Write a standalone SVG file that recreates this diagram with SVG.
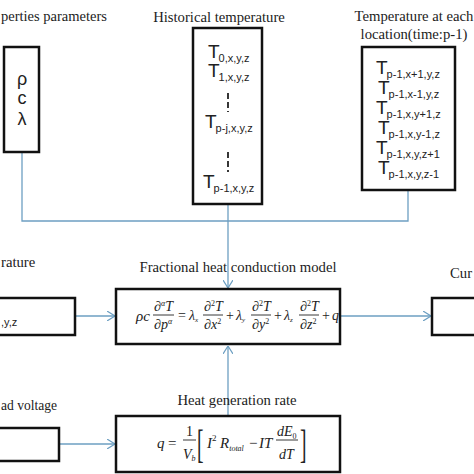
<svg xmlns="http://www.w3.org/2000/svg" width="474" height="474" viewBox="0 0 474 474">
<defs>
<style>
.box{fill:#fff;stroke:#111;stroke-width:2.5}
.title{font-family:"Liberation Serif","Times New Roman",serif;font-size:14.7px;fill:#222}
.sym{font-family:"Liberation Sans",Arial,sans-serif;fill:#222}
.eq{font-family:"Liberation Serif","Times New Roman",serif;font-style:italic;font-size:14px;fill:#222}
.up{font-style:normal}
.con{fill:none;stroke:#6d9fc2;stroke-width:1.3}
.bar{stroke:#222;stroke-width:0.9}
</style>
<marker id="ah" viewBox="0 0 8 10" refX="8" refY="5" markerWidth="8" markerHeight="10" markerUnits="userSpaceOnUse" orient="auto">
<path d="M0,0 L8,5 L0,10" fill="none" stroke="#6d9fc2" stroke-width="1.2"/>
</marker>
</defs>
<rect width="474" height="474" fill="#fff"/>

<g id="connectors">
<path class="con" d="M22,152 V221 H408 V190"/>
<line class="con" x1="228" y1="204" x2="228" y2="288" marker-end="url(#ah)"/>
<line class="con" x1="75" y1="316" x2="115" y2="316" marker-end="url(#ah)"/>
<line class="con" x1="341" y1="316" x2="431" y2="316" marker-end="url(#ah)"/>
<line class="con" x1="228" y1="416" x2="228" y2="346" marker-end="url(#ah)"/>
<line class="con" x1="59" y1="444" x2="115" y2="444" marker-end="url(#ah)"/>
</g>

<g id="properties">
<text class="title" x="1" y="21" textLength="106" lengthAdjust="spacingAndGlyphs">perties parameters</text>
<rect class="box" x="4" y="47" width="35" height="105"/>
<text class="sym" x="22" y="85" font-size="18" text-anchor="middle">ρ</text>
<text class="sym" x="22" y="104" font-size="18" text-anchor="middle">c</text>
<text class="sym" x="22" y="125" font-size="18" text-anchor="middle">λ</text>
</g>

<g id="historical">
<text class="title" x="219" y="22" text-anchor="middle">Historical temperature</text>
<rect class="box" x="193" y="28" width="69" height="176"/>
<text class="sym" font-size="19" x="208" y="58">T<tspan font-size="11" dx="-1" dy="4">0,x,y,z</tspan></text>
<text class="sym" font-size="19" x="208" y="77">T<tspan font-size="11" dx="-1" dy="4">1,x,y,z</tspan></text>
<line x1="228" y1="93" x2="228" y2="112" stroke="#222" stroke-width="1.8" stroke-dasharray="6,3"/>
<text class="sym" font-size="19" x="205" y="128">T<tspan font-size="11" dx="-1" dy="4">p-j,x,y,z</tspan></text>
<line x1="228" y1="152" x2="228" y2="172" stroke="#222" stroke-width="1.8" stroke-dasharray="6,3"/>
<text class="sym" font-size="19" x="203" y="188">T<tspan font-size="11" dx="-1" dy="4">p-1,x,y,z</tspan></text>
</g>

<g id="location">
<text class="title" x="414" y="21" text-anchor="middle">Temperature at each</text>
<text class="title" x="414" y="39" text-anchor="middle">location(time:p-1)</text>
<rect class="box" x="362" y="47" width="93" height="143"/>
<text class="sym" font-size="19" x="376" y="74">T<tspan font-size="11" dx="-1" dy="4">p-1,x+1,y,z</tspan></text>
<text class="sym" font-size="19" x="378" y="94">T<tspan font-size="11" dx="-1" dy="4">p-1,x-1,y,z</tspan></text>
<text class="sym" font-size="19" x="376" y="114">T<tspan font-size="11" dx="-1" dy="4">p-1,x,y+1,z</tspan></text>
<text class="sym" font-size="19" x="378" y="134">T<tspan font-size="11" dx="-1" dy="4">p-1,x,y-1,z</tspan></text>
<text class="sym" font-size="19" x="376" y="154">T<tspan font-size="11" dx="-1" dy="4">p-1,x,y,z+1</tspan></text>
<text class="sym" font-size="19" x="378" y="174">T<tspan font-size="11" dx="-1" dy="4">p-1,x,y,z-1</tspan></text>
</g>

<g id="temperature">
<text class="title" x="1" y="267">rature</text>
<rect class="box" x="-5" y="298" width="80" height="37"/>
<text class="sym" font-size="11" x="1" y="326">,y,z</text>
</g>

<g id="model">
<text class="title" x="238" y="272" text-anchor="middle">Fractional heat conduction model</text>
<rect class="box" x="116" y="289" width="224" height="55"/>
<g class="eq">
<text x="136" y="321" font-size="15">ρc</text>
<text x="154" y="311">∂<tspan font-size="8" dy="-5">α</tspan><tspan dy="5">T</tspan></text>
<line class="bar" x1="153" y1="315" x2="174" y2="315"/>
<text x="154" y="329">∂p<tspan font-size="8" dy="-5">α</tspan></text>
<text class="up" x="178" y="320">=</text>
<text x="189" y="320">λ<tspan font-size="7" dy="2">x</tspan></text>
<text x="204" y="311">∂<tspan font-size="8" class="up" dy="-5">2</tspan><tspan dy="5">T</tspan></text>
<line class="bar" x1="203" y1="315" x2="223" y2="315"/>
<text x="204" y="329">∂x<tspan font-size="8" class="up" dy="-5">2</tspan></text>
<text class="up" x="226" y="320">+</text>
<text x="236" y="320">λ<tspan font-size="7" dy="2">y</tspan></text>
<text x="252" y="311">∂<tspan font-size="8" class="up" dy="-5">2</tspan><tspan dy="5">T</tspan></text>
<line class="bar" x1="251" y1="315" x2="271" y2="315"/>
<text x="252" y="329">∂y<tspan font-size="8" class="up" dy="-5">2</tspan></text>
<text class="up" x="274" y="320">+</text>
<text x="284" y="320">λ<tspan font-size="7" dy="2">z</tspan></text>
<text x="300" y="311">∂<tspan font-size="8" class="up" dy="-5">2</tspan><tspan dy="5">T</tspan></text>
<line class="bar" x1="299" y1="315" x2="319" y2="315"/>
<text x="300" y="329">∂z<tspan font-size="8" class="up" dy="-5">2</tspan></text>
<text class="up" x="322" y="320">+</text>
<text x="332" y="320">q</text>
</g>
</g>

<g id="current">
<text class="title" x="450" y="278">Cur</text>
<rect class="box" x="432" y="298" width="50" height="37"/>
</g>

<g id="voltage">
<text class="title" x="1" y="410" textLength="56" lengthAdjust="spacingAndGlyphs">ad voltage</text>
<rect class="box" x="-5" y="428" width="64" height="33"/>
</g>

<g id="heat">
<text class="title" x="237" y="405" text-anchor="middle">Heat generation rate</text>
<rect class="box" x="116" y="416" width="224" height="56"/>
<g class="eq" font-size="15">
<text x="157" y="448" font-size="15">q</text>
<text class="up" x="168" y="448" font-size="15">=</text>
<text class="up" x="186" y="436" font-size="14">1</text>
<line class="bar" x1="183" y1="440" x2="196" y2="440"/>
<text x="183" y="459" font-size="14">V<tspan font-size="8" dy="2">b</tspan></text>
<text class="up" font-size="26" transform="translate(197,458) scale(0.75,1.55)">[</text>
<text x="207" y="448" font-size="15">I<tspan class="up" font-size="9" dy="-7">2</tspan></text>
<text x="220" y="448" font-size="15">R<tspan font-size="8" dy="3">total</tspan></text>
<text class="up" x="249" y="448" font-size="15">−</text>
<text x="259" y="448" font-size="15">IT</text>
<text x="277" y="436" font-size="14">dE<tspan class="up" font-size="8" dy="3">0</tspan></text>
<line class="bar" x1="276" y1="440" x2="298" y2="440"/>
<text x="279" y="459" font-size="14">dT</text>
<text class="up" font-size="26" transform="translate(300,458) scale(0.75,1.55)">]</text>
</g>
</g>
</svg>
